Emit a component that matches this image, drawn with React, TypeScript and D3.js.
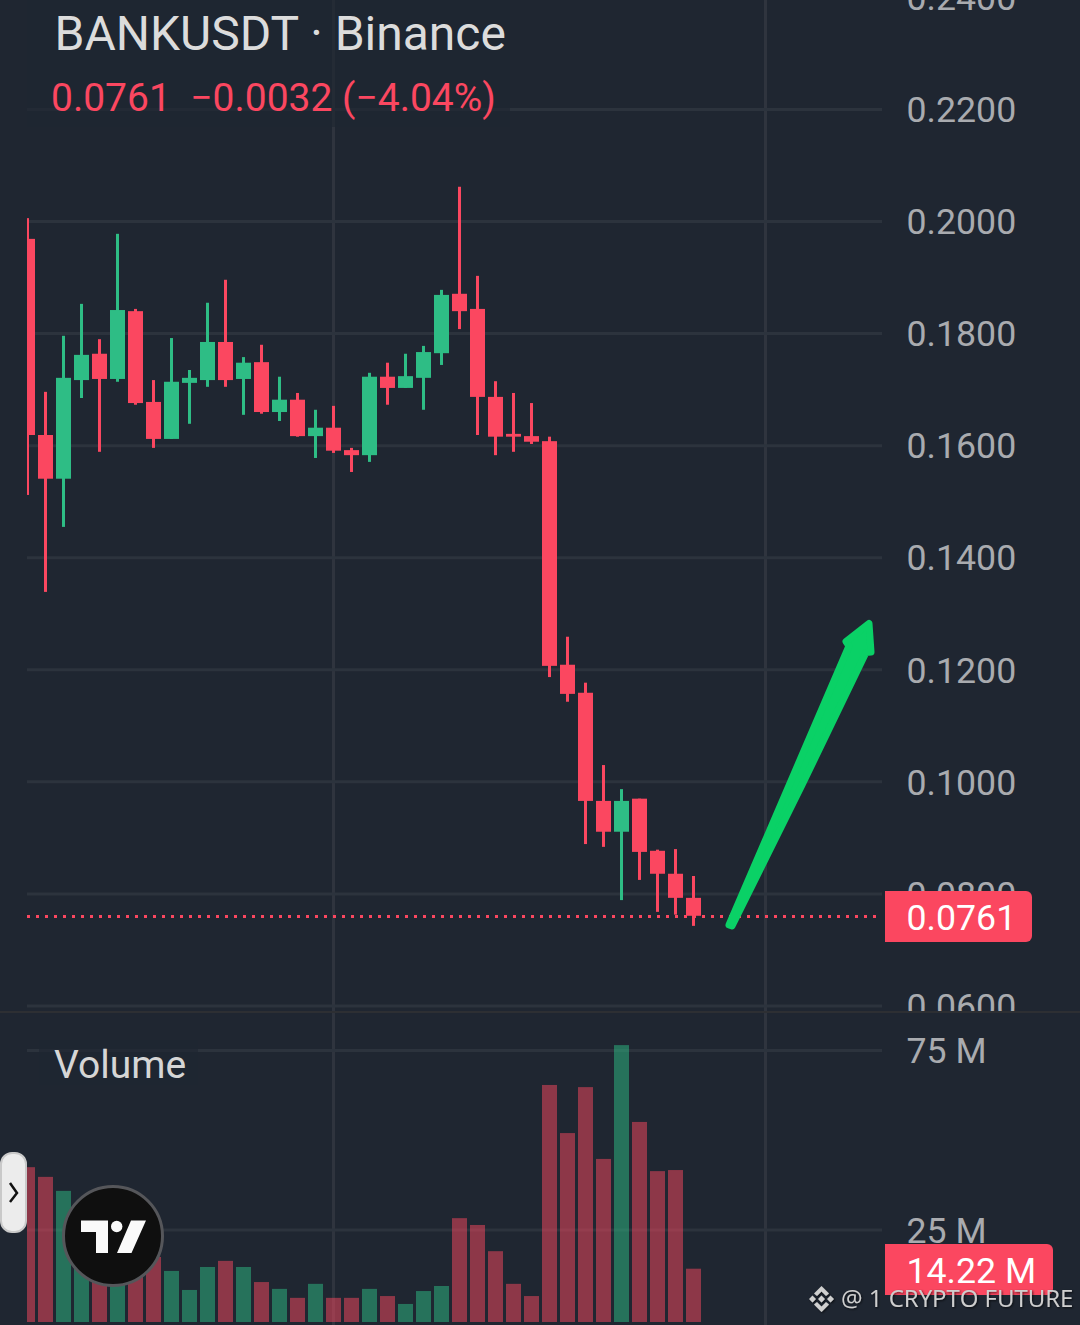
import React, { useEffect, useRef } from 'react';
import * as d3 from 'd3';

const opens = [0.1969, 0.1619, 0.1541, 0.1717, 0.1764, 0.1719, 0.184, 0.1678, 0.1612, 0.1712, 0.1717, 0.1785, 0.1719, 0.1749, 0.166, 0.1682, 0.1617, 0.1632, 0.1592, 0.1583, 0.1723, 0.1703, 0.1721, 0.1765, 0.1871, 0.1844, 0.1687, 0.1621, 0.1617, 0.1608, 0.1209, 0.1159, 0.0966, 0.0911, 0.097, 0.0877, 0.0836, 0.0793];
const highs = [0.2006, 0.1696, 0.1796, 0.1853, 0.179, 0.1978, 0.1844, 0.1717, 0.1792, 0.1735, 0.1855, 0.1896, 0.1758, 0.178, 0.1723, 0.1694, 0.1664, 0.1671, 0.1596, 0.173, 0.1748, 0.1764, 0.1778, 0.1878, 0.2062, 0.1903, 0.1715, 0.1694, 0.1676, 0.1616, 0.1259, 0.1177, 0.103, 0.0987, 0.097, 0.0879, 0.088, 0.0832];
const lows = [0.1512, 0.1339, 0.1455, 0.1685, 0.1589, 0.1714, 0.1673, 0.1596, 0.1612, 0.1639, 0.1705, 0.1705, 0.1655, 0.1657, 0.1644, 0.1616, 0.1578, 0.1587, 0.1553, 0.1571, 0.1673, 0.1703, 0.1664, 0.1744, 0.1808, 0.1619, 0.1583, 0.1589, 0.1603, 0.1187, 0.1143, 0.0889, 0.0884, 0.0789, 0.0825, 0.0768, 0.0763, 0.0743];
const closes = [0.1619, 0.1541, 0.1721, 0.1762, 0.1719, 0.1842, 0.1676, 0.1612, 0.1714, 0.1721, 0.1785, 0.1717, 0.1748, 0.166, 0.1682, 0.1617, 0.1632, 0.1591, 0.1583, 0.1723, 0.1703, 0.1724, 0.1767, 0.1869, 0.184, 0.1687, 0.1616, 0.1616, 0.1607, 0.1207, 0.1157, 0.0966, 0.0911, 0.0966, 0.0875, 0.0836, 0.0793, 0.0761];
const volumes = [42.5, 39.8, 35.9, 22, 16, 14.4, 22, 17.5, 13.6, 8.3, 14.7, 16.4, 14.7, 10.5, 8.6, 6.1, 10, 6.1, 6.1, 8.6, 6.6, 4.4, 8, 9.4, 28.3, 26.4, 19.1, 10, 6.6, 65.4, 52, 64.8, 44.8, 76.5, 55.1, 41.4, 41.7, 14.22];

const priceTicks = [0.06, 0.08, 0.1, 0.12, 0.14, 0.16, 0.18, 0.2, 0.22, 0.24];
const volumeTicks = [25, 75];
const lastPrice = 0.0761;
const lastVolume = 14.22;

const RED = '#fb4760';
const GREEN = '#2ebd85';
const BG = '#1f2631';
const GRID = '#2c333d';
const AXIS_TEXT = '#a9abaf';
const FONT = 'Roboto, sans-serif';

const App: React.FC = () => {
  const svgRef = useRef<SVGSVGElement>(null);

  useEffect(() => {
    if (!svgRef.current) return;
    const svg = d3.select(svgRef.current);
    svg.selectAll('*').remove();

    const width = 1080;
    const height = 1325;

    const x = d3.scaleLinear().domain([0, 37]).range([27.5, 693.5]);
    const yPrice = d3.scaleLinear().domain([0.2, 0.06]).range([221.5, 1006]);
    const yVol = d3.scaleLinear().domain([75, 25]).range([1050.5, 1230]);
    const volBase = 1322;

    const defs = svg.append('defs');
    defs.append('clipPath').attr('id', 'plot').append('rect')
      .attr('x', 27).attr('y', 0).attr('width', 855).attr('height', height);
    defs.append('clipPath').attr('id', 'price-pane').append('rect')
      .attr('x', 0).attr('y', 0).attr('width', width).attr('height', 1011);
    const shadow = defs.append('filter').attr('id', 'wm-shadow');
    shadow.append('feDropShadow')
      .attr('dx', 1).attr('dy', 1).attr('stdDeviation', 1)
      .attr('flood-color', '#000').attr('flood-opacity', 0.7);

    svg.append('rect').attr('width', width).attr('height', height).attr('fill', BG);

    // Grid
    const grid = svg.append('g').attr('clip-path', 'url(#plot)');
    grid.selectAll('.v').data([333.5, 765.5]).enter().append('line')
      .attr('x1', d => d).attr('x2', d => d)
      .attr('y1', 0).attr('y2', height)
      .attr('stroke', '#2f343e').attr('stroke-width', 3);
    grid.selectAll('.hp').data(priceTicks).enter().append('line')
      .attr('x1', 27).attr('x2', 882)
      .attr('y1', d => yPrice(d)).attr('y2', d => yPrice(d))
      .attr('stroke', GRID).attr('stroke-width', 3);
    grid.selectAll('.hv').data(volumeTicks).enter().append('line')
      .attr('x1', 27).attr('x2', 882)
      .attr('y1', d => yVol(d)).attr('y2', d => yVol(d))
      .attr('stroke', GRID).attr('stroke-width', 3);

    // Legend backdrops dim the grid under the header and the volume title
    svg.append('rect').attr('x', 27).attr('y', 0).attr('width', 483).attr('height', 127)
      .attr('fill', BG).attr('opacity', 0.65);
    svg.append('rect').attr('x', 39).attr('y', 1040).attr('width', 159).attr('height', 45)
      .attr('fill', BG).attr('opacity', 0.65);

    // Axes
    const priceAxis = svg.append('g')
      .attr('clip-path', 'url(#price-pane)')
      .append('g')
      .attr('transform', 'translate(906.5,0.8)')
      .call(d3.axisRight(yPrice).tickValues(priceTicks).tickSize(0).tickPadding(0).tickFormat(d => (d as number).toFixed(4)));
    const volAxis = svg.append('g')
      .attr('transform', 'translate(906.5,0.8)')
      .call(d3.axisRight(yVol).tickValues(volumeTicks).tickSize(0).tickPadding(0).tickFormat(d => `${d} M`));
    [priceAxis, volAxis].forEach(a => {
      a.select('.domain').remove();
      a.selectAll('text')
        .attr('fill', AXIS_TEXT)
        .style('font-family', FONT)
        .style('font-size', '35.7px');
    });

    // Pane separator
    svg.append('line')
      .attr('x1', 0).attr('x2', width).attr('y1', 1012).attr('y2', 1012)
      .attr('stroke', '#2d2f33').attr('stroke-width', 2);

    // Last price line
    const lastY = Math.round(yPrice(lastPrice)) + 0.5;
    svg.append('line')
      .attr('x1', 27).attr('x2', 877)
      .attr('y1', lastY).attr('y2', lastY)
      .attr('stroke', RED).attr('stroke-width', 3).attr('stroke-dasharray', '3 6');

    // Volume bars
    const plot = svg.append('g').attr('clip-path', 'url(#plot)');
    plot.selectAll('.vol').data(volumes).enter().append('rect')
      .attr('x', (_, i) => x(i) - 7.5)
      .attr('width', 15)
      .attr('y', d => yVol(d))
      .attr('height', d => volBase - yVol(d))
      .attr('fill', (_, i) => (closes[i] >= opens[i] ? GREEN : RED))
      .attr('opacity', 0.5);

    // Candles
    const idx = d3.range(opens.length);
    plot.selectAll('.wick').data(idx).enter().append('rect')
      .attr('x', i => x(i) - 1.5)
      .attr('width', 3)
      .attr('y', i => yPrice(highs[i]))
      .attr('height', i => yPrice(lows[i]) - yPrice(highs[i]))
      .attr('fill', i => (closes[i] >= opens[i] ? GREEN : RED));
    plot.selectAll('.body').data(idx).enter().append('rect')
      .attr('x', i => x(i) - 7.5)
      .attr('width', 15)
      .attr('y', i => yPrice(Math.max(opens[i], closes[i])))
      .attr('height', i => Math.max(1, yPrice(Math.min(opens[i], closes[i])) - yPrice(Math.max(opens[i], closes[i]))))
      .attr('fill', i => (closes[i] >= opens[i] ? GREEN : RED));

    // Value tags
    const tag = (y0: number, w: number, label: string) => {
      svg.append('path')
        .attr('d', `M885,${y0}H${885 + w - 6}a6,6 0 0 1 6,6V${y0 + 45}a6,6 0 0 1 -6,6H885Z`)
        .attr('fill', RED);
      svg.append('text')
        .attr('x', 906.5).attr('y', y0 + 38.6)
        .attr('fill', '#fff')
        .style('font-family', FONT).style('font-size', '35.7px')
        .text(label);
    };
    tag(891, 147, lastPrice.toFixed(4));
    tag(1244, 168, `${lastVolume.toFixed(2)} M`);

    // Header
    svg.append('text').attr('x', 54.5).attr('y', 50)
      .attr('fill', '#dcdcdc')
      .style('font-family', FONT).style('font-size', '48px')
      .text('BANKUSDT · Binance');
    svg.append('text').attr('x', 51).attr('y', 111)
      .attr('fill', RED)
      .attr('xml:space', 'preserve')
      .style('white-space', 'pre')
      .style('font-family', FONT).style('font-size', '39px')
      .text('0.0761  −0.0032 (−4.04%)');
    svg.append('text').attr('x', 54).attr('y', 1078)
      .attr('fill', '#d6d6d6')
      .style('font-family', FONT).style('font-size', '39px')
      .text('Volume');

    // Arrow annotation
    svg.append('path')
      .attr('d', 'M729,925 L849,646 L846,641.5 L869,623.5 L871,652 L866,652.5 L802,785 L732,926 Z')
      .attr('fill', '#0ad166').attr('stroke', '#0ad166')
      .attr('stroke-width', 7).attr('stroke-linejoin', 'round');

    // Side handle
    svg.append('rect')
      .attr('x', 1).attr('y', 1153).attr('width', 25).attr('height', 79).attr('rx', 11)
      .attr('fill', '#ececec').attr('stroke', '#c9c9c9').attr('stroke-width', 2);
    svg.append('path')
      .attr('d', 'M10,1183 L17,1193 L10,1202')
      .attr('fill', 'none').attr('stroke', '#111').attr('stroke-width', 2.5);

    // TradingView badge
    const badge = svg.append('g').attr('transform', 'translate(113,1236)');
    badge.append('circle').attr('r', 49.5).attr('fill', '#0f0f0f').attr('stroke', '#55565a').attr('stroke-width', 3);
    badge.append('path')
      .attr('d', 'M-32,-15.5H-5V17H-17V-4H-32Z M18,-15.5H33L18.5,17H4Z')
      .attr('fill', '#fafafa');
    badge.append('circle').attr('cx', 3.7).attr('cy', -9.5).attr('r', 5.7).attr('fill', '#fafafa');

    // Watermark
    const wm = svg.append('g').attr('filter', 'url(#wm-shadow)');
    wm.append('path')
      .attr('d', 'M821.5,1286 L829,1293.5 L826,1296 L821.5,1291.5 L817,1296 L814,1293.5 Z M821.5,1312 L829,1304.5 L826,1302 L821.5,1306.5 L817,1302 L814,1304.5 Z M821.5,1295.5 L825,1299 L821.5,1302.5 L818,1299 Z M812.5,1295.5 L816,1299 L812.5,1302.5 L809,1299 Z M830.5,1295.5 L834,1299 L830.5,1302.5 L827,1299 Z')
      .attr('fill', '#cfcfcf');
    wm.append('text').attr('x', 841).attr('y', 1307)
      .attr('fill', '#cfcfcf')
      .style('font-family', '"Open Sans", sans-serif').style('font-size', '24px')
      .text('@ 1 CRYPTO FUTURE');
  }, []);

  return (
    <svg
      ref={svgRef}
      width={1080}
      height={1325}
      style={{ position: 'absolute', top: 0, left: 0, display: 'block' }}
    />
  );
};

export default App;
